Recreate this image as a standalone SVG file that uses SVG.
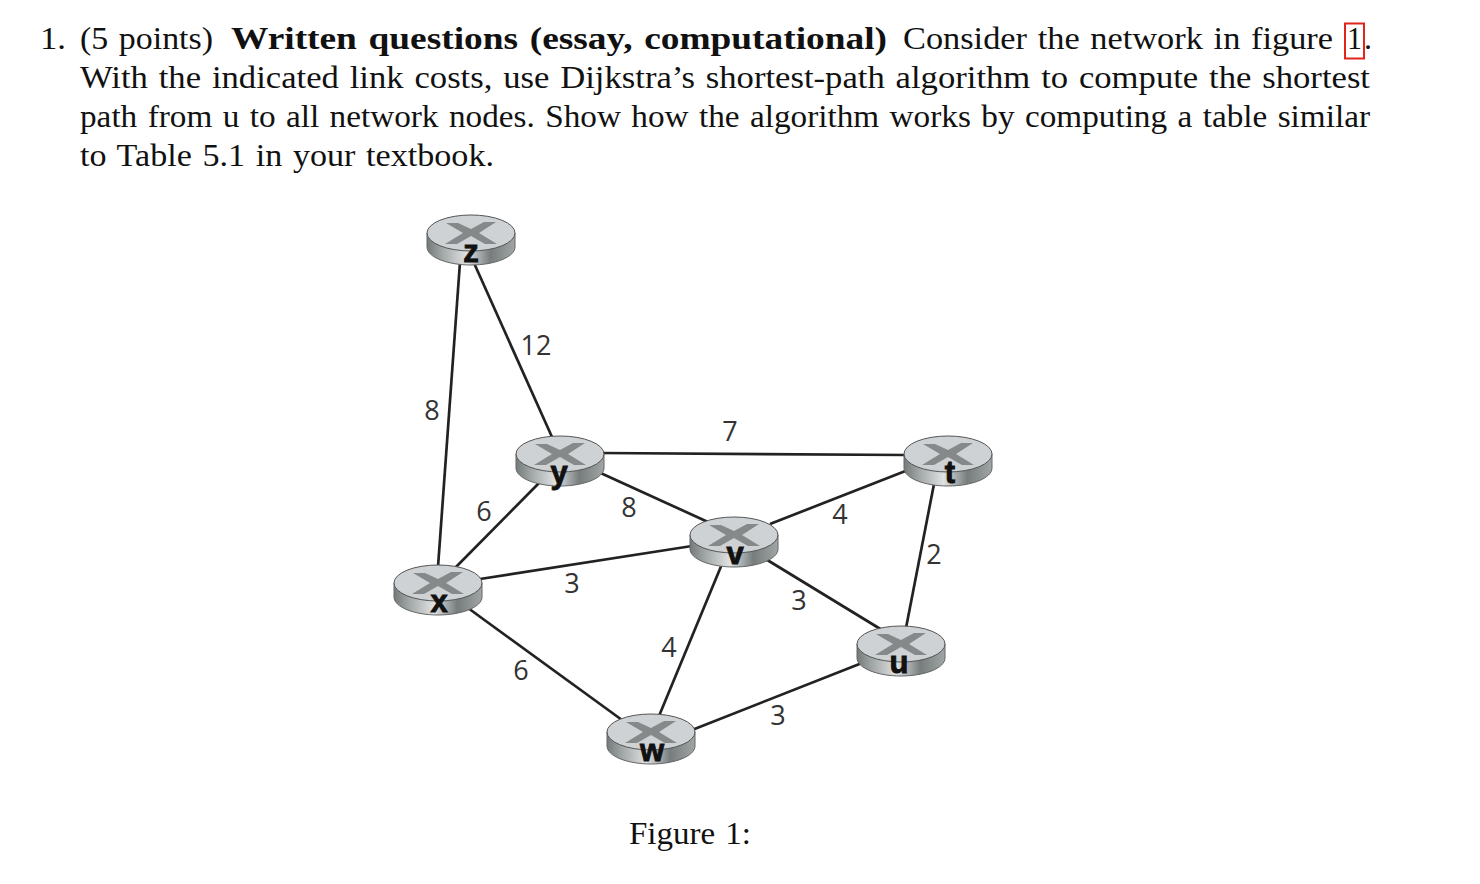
<svg xmlns="http://www.w3.org/2000/svg" width="1480" height="884" viewBox="0 0 1480 884">
<style>
.t{font-family:"Liberation Serif",serif;font-size:32px;fill:#111;word-spacing:2px}
.b{font-weight:bold}
.n{font-family:"Open Sans","Noto Sans",sans-serif;font-size:27px;fill:#333;text-anchor:middle}
.r{font-family:"Liberation Sans",sans-serif;font-weight:bold;font-size:31px;fill:#111;stroke:#111;stroke-width:.9;text-anchor:middle}
.l{stroke:#222;stroke-width:2.7;fill:none}
</style>
<defs>
<linearGradient id="side" x1="0" x2="1" y1="0" y2="0">
<stop offset="0" stop-color="#74797a"/><stop offset=".18" stop-color="#a3a8a8"/><stop offset=".45" stop-color="#dfe2e2"/><stop offset=".72" stop-color="#777c7c"/><stop offset="1" stop-color="#a0a5a5"/>
</linearGradient>
<g id="router">
<path d="M-44-4V10C-44 20-24 28 0 28S44 20 44 10V-4Z" fill="url(#side)" stroke="#666" stroke-width="1"/>
<ellipse cx="0" cy="-4" rx="44" ry="18" fill="#ced2d4" stroke="#555" stroke-width="1"/>
<path d="M-25-14H-13L0-8L13-15H25L8-4L26 7H14L0-1L-14 7H-26L-8-4Z" fill="#85898a"/>
</g>
</defs>
<text class="t" x="40" y="49" textLength="26" lengthAdjust="spacingAndGlyphs">1.</text>
<text class="t" x="80" y="49" textLength="133" lengthAdjust="spacingAndGlyphs">(5 points)</text>
<text class="t b" x="231" y="49" textLength="656" lengthAdjust="spacingAndGlyphs">Written questions (essay, computational)</text>
<text class="t" x="903" y="49" textLength="430" lengthAdjust="spacingAndGlyphs">Consider the network in figure</text>
<text class="t" x="1347" y="49" textLength="15" lengthAdjust="spacingAndGlyphs">1</text>
<text class="t" x="1364" y="49">.</text>
<rect x="1345" y="23.500" width="19" height="35" fill="none" stroke="#e0261c" stroke-width="2"/>
<text class="t" x="80" y="88" textLength="1290" lengthAdjust="spacingAndGlyphs">With the indicated link costs, use Dijkstra’s shortest-path algorithm to compute the shortest</text>
<text class="t" x="80" y="127" textLength="1290" lengthAdjust="spacingAndGlyphs">path from u to all network nodes. Show how the algorithm works by computing a table similar</text>
<text class="t" x="80" y="166" textLength="414" lengthAdjust="spacingAndGlyphs">to Table 5.1 in your textbook.</text>
<g id="connectors">
<path class="l" d="M460 262L438 567"/>
<path class="l" d="M474 263L552 437"/>
<path class="l" d="M600 453L906 455"/>
<path class="l" d="M540 482L454 569"/>
<path class="l" d="M594 470L708 522"/>
<path class="l" d="M480 579L692 546"/>
<path class="l" d="M468 608L622 720"/>
<path class="l" d="M722 564L659 716"/>
<path class="l" d="M770 524L908 470"/>
<path class="l" d="M764 558L882 630"/>
<path class="l" d="M934 484L906 628"/>
<path class="l" d="M862 663L692 730"/>
</g>
<g id="link-labels">
<text class="n" x="536" y="355">12</text>
<text class="n" x="432" y="420">8</text>
<text class="n" x="730" y="441">7</text>
<text class="n" x="484" y="521">6</text>
<text class="n" x="629" y="517">8</text>
<text class="n" x="840" y="524">4</text>
<text class="n" x="934" y="564">2</text>
<text class="n" x="572" y="593">3</text>
<text class="n" x="799" y="610">3</text>
<text class="n" x="669" y="657">4</text>
<text class="n" x="521" y="680">6</text>
<text class="n" x="778" y="725">3</text>
</g>
<g id="node-z"><use href="#router" x="471" y="237"/><text class="r" x="471" y="262">z</text></g>
<g id="node-y"><use href="#router" x="560" y="458"/><text class="r" x="559" y="483">y</text></g>
<g id="node-t"><use href="#router" x="948" y="458"/><text class="r" x="950" y="483">t</text></g>
<g id="node-v"><use href="#router" x="734" y="539"/><text class="r" x="735" y="564">v</text></g>
<g id="node-x"><use href="#router" x="438" y="587"/><text class="r" x="439" y="612">x</text></g>
<g id="node-u"><use href="#router" x="901" y="648"/><text class="r" x="899" y="673">u</text></g>
<g id="node-w"><use href="#router" x="651" y="736"/><text class="r" x="652" y="761">w</text></g>
<text class="t" x="629" y="844" textLength="122" lengthAdjust="spacingAndGlyphs">Figure 1:</text>
</svg>
